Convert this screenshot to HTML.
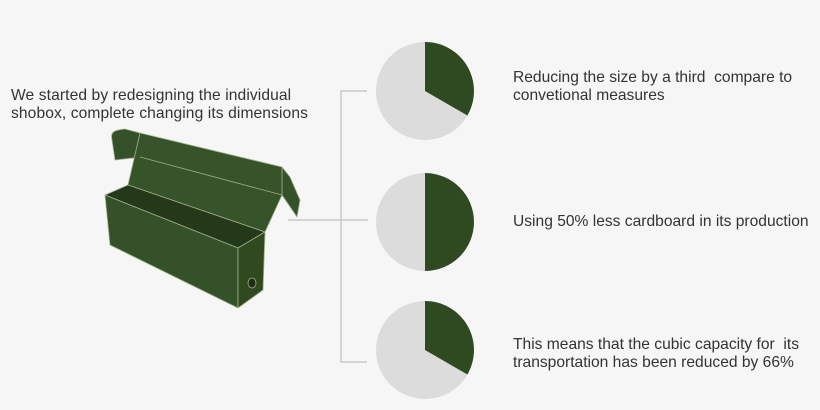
<!DOCTYPE html>
<html><head><style>
body{margin:0;width:820px;height:410px;background:#f6f6f6;overflow:hidden;font-family:"Liberation Sans",sans-serif;}
.t{position:absolute;font-size:15.6px;color:#333;line-height:18px;white-space:nowrap;}
</style></head><body>
<svg width="820" height="410" style="position:absolute;left:0;top:0">
<g stroke="#c8c8c8" stroke-width="1.5" fill="none">
<path d="M367 91H341V362H367"/>
<path d="M288 220H368"/>
</g>
<g fill="#dcdcdc">
<circle cx="425" cy="91" r="49"/>
<circle cx="425" cy="222" r="49"/>
<circle cx="425" cy="350" r="49"/>
</g>
<g fill="#2f4a20">
<path d="M425 91V42A49 49 0 0 1 467.4 115.5Z"/>
<path d="M425 222V173A49 49 0 0 1 425 271Z"/>
<path d="M425 350V301A49 49 0 0 1 467.4 374.5Z"/>
</g>
<g stroke="#9fb08a" stroke-width="0.8" stroke-linejoin="round">
<path d="M112 140 C110 132 114 130 125 129 L140 133 L142 157 L115 160 Z" fill="#34512a"/>
<path d="M282 167 L290 177 L300 200 L297 217 L282 195 Z" fill="#34512a"/>
<path d="M128 185 L140 133 L282 167 L282 195 L265 232 Z" fill="#36532a"/>
<path d="M140 157 L282 195" fill="none"/>
<path d="M105 195 L128 185 L265 232 L238 248 Z" fill="#24381a"/>
<path d="M105 195 L238 248 L238 308 L110 245 Z" fill="#34512a"/>
<path d="M238 248 L265 232 L263 290 L238 308 Z" fill="#30491f"/>
<ellipse cx="252" cy="283" rx="4" ry="5" fill="#1e2e14"/>
</g>
</svg>
<div class="t" style="left:11px;top:87px;letter-spacing:0.1px">We started by redesigning the individual<br>shobox, complete changing its dimensions</div>
<div class="t" style="left:513px;top:69px">Reducing the size by a third&nbsp; compare to<br>convetional measures</div>
<div class="t" style="left:513px;top:213px">Using 50% less cardboard in its production</div>
<div class="t" style="left:513px;top:336px">This means that the cubic capacity for&nbsp; its<br>transportation has been reduced by 66%</div>
</body></html>
